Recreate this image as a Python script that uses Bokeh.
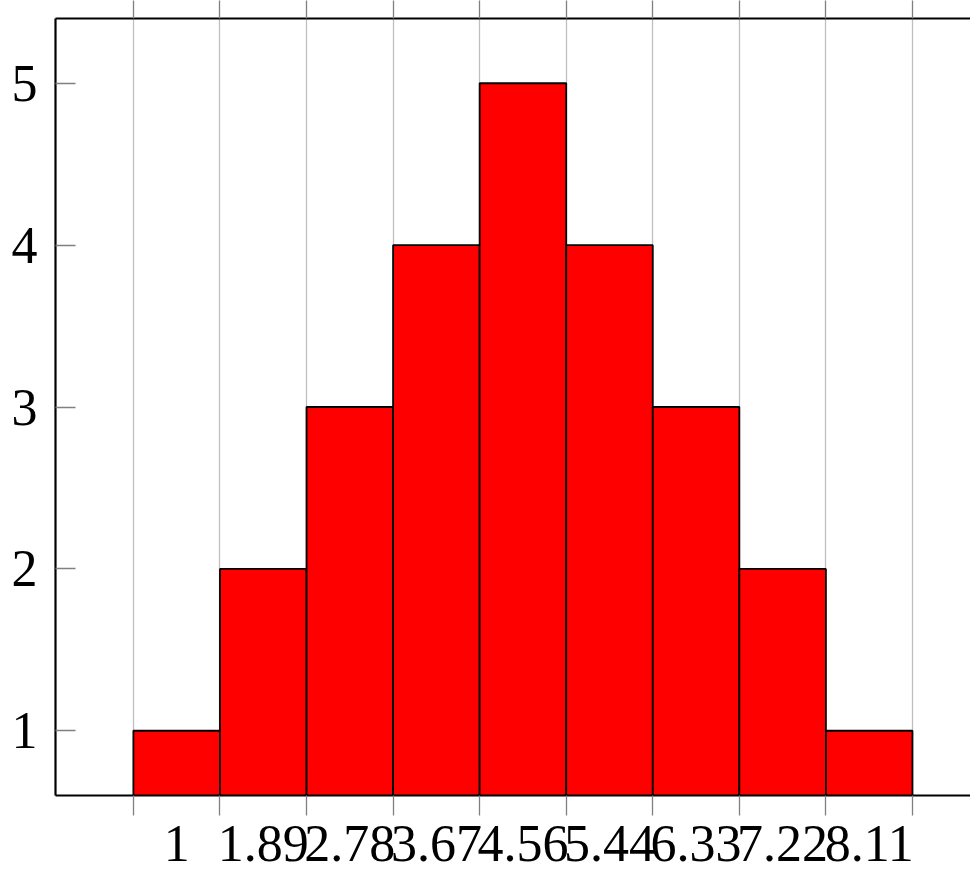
from bokeh.plotting import figure
from bokeh.models import Range1d, FixedTicker, LinearAxis, Grid
from bokeh.embed import file_html
from bokeh.resources import INLINE

# data
bin_edges = [1.0, 1.8889, 2.7778, 3.6667, 4.5556, 5.4444, 6.3333, 7.2222, 8.1111, 9.0]
counts = [1, 2, 3, 4, 5, 4, 3, 2, 1]
tick_labels = ["1", "1.89", "2.78", "3.67", "4.56", "5.44", "6.33", "7.22", "8.11"]
y_ticks = [1, 2, 3, 4, 5]

lefts = bin_edges[:-1]
rights = bin_edges[1:]
centers = [(a + b) / 2 for a, b in zip(lefts, rights)]

FONT = "Liberation Serif"
FS = "52px"

p = figure(width=970, height=870, output_backend="svg", toolbar_location=None,
           x_range=Range1d(0.2, 9.596), y_range=Range1d(0.6, 5.4),
           x_axis_location=None, y_axis_location=None,
           min_border_left=55, min_border_right=0, min_border_top=18, min_border_bottom=75)
p.outline_line_color = None
p.background_fill_color = "white"
p.border_fill_color = "white"

# remove default grids
for r in list(p.center):
    if isinstance(r, Grid):
        r.visible = False

# bottom axis: labels at bin centres, tick marks at bin edges (minor)
xt = FixedTicker(ticks=centers, minor_ticks=bin_edges)
xb = LinearAxis(ticker=xt)
xb.major_label_overrides = {c: l for c, l in zip(centers, tick_labels)}
xb.major_tick_line_color = None
xb.major_tick_in = 0
xb.major_tick_out = 0
xb.minor_tick_in = 0
xb.minor_tick_out = 20
xb.minor_tick_line_color = "#808080"
xb.minor_tick_line_width = 1.3
xb.axis_line_color = "black"
xb.axis_line_width = 2.2
xb.major_label_text_font = FONT
xb.major_label_text_font_size = FS
xb.major_label_text_color = "black"
xb.major_label_standoff = 10
p.add_layout(xb, "below")

# top axis (tick marks only)
xa = LinearAxis(ticker=FixedTicker(ticks=bin_edges))
xa.major_label_overrides = {e: "" for e in bin_edges}
xa.major_label_standoff = 0
xa.major_tick_in = 0
xa.major_tick_out = 18
xa.major_tick_line_color = "#808080"
xa.major_tick_line_width = 1.3
xa.minor_tick_line_color = None
xa.axis_line_color = "black"
xa.axis_line_width = 2.2
p.add_layout(xa, "above")

# left axis
yl = LinearAxis(ticker=FixedTicker(ticks=y_ticks))
yl.major_tick_in = 20
yl.major_tick_out = 0
yl.minor_tick_line_color = None
yl.major_tick_line_color = "#808080"
yl.major_tick_line_width = 1.3
yl.axis_line_color = "black"
yl.axis_line_width = 2.2
yl.major_label_text_font = FONT
yl.major_label_text_font_size = FS
yl.major_label_text_color = "black"
yl.major_label_standoff = 18
p.add_layout(yl, "left")

# vertical grid at bin edges
g = Grid(dimension=0, ticker=FixedTicker(ticks=bin_edges), grid_line_color="#bfbfbf", grid_line_width=1.3)
p.add_layout(g)

p.quad(left=lefts, right=rights, top=counts, bottom=0,
       fill_color="#ff0000", line_color="black", line_width=1.8)

open("out.html", "w").write(file_html(p, INLINE))
